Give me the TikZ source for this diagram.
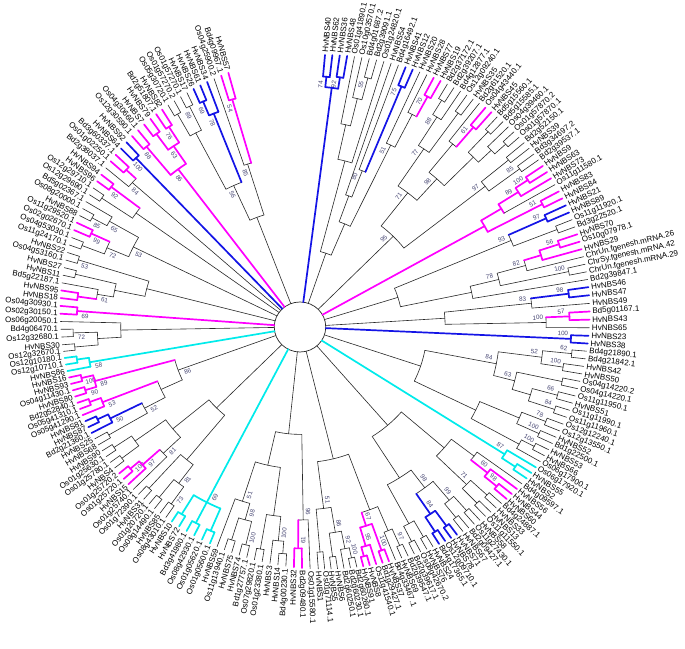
\documentclass[tikz,border=0pt]{standalone}
\usepackage{fontspec}
\setmainfont{Liberation Sans}
\definecolor{cm}{RGB}{255,0,255}
\definecolor{cb}{RGB}{20,20,230}
\definecolor{cc}{RGB}{0,235,235}
\definecolor{bsc}{RGB}{70,70,115}
\definecolor{lk}{RGB}{40,40,40}
\def\colk{lk}\def\colm{cm}\def\colb{cb}\def\colc{cc}
\def\wk{0.6pt}\def\wm{1.7pt}\def\wb{1.7pt}\def\wc{1.7pt}
\newcommand\tsA[2]{\expandafter\xdef\csname tA@#1\endcsname{#2}}
\newcommand\tgA[1]{\csname tA@#1\endcsname}
\newcommand\tsR[2]{\expandafter\xdef\csname tR@#1\endcsname{#2}}
\newcommand\tgR[1]{\csname tR@#1\endcsname}
\newcommand\tsC[2]{\expandafter\xdef\csname tC@#1\endcsname{#2}}
\newcommand\tgC[1]{\csname tC@#1\endcsname}
\newcommand\tsW[2]{\expandafter\xdef\csname tW@#1\endcsname{#2}}
\newcommand\tgW[1]{\csname tW@#1\endcsname}
\newcommand\Seg[4]{\gdef\sA{#1}\gdef\sAa{#2}\gdef\sB{#3}\gdef\sBa{#4}}
\newcommand\rtipof[1]{%
  \pgfmathsetmacro\tud{2.43*cos(#1)+1.5*sin(#1)}%
  \pgfmathsetmacro\rtipval{10*(\tud+sqrt(652.34+\tud*\tud))}}
\newcommand\Lf[3]{%
  \pgfmathsetmacro\la{(\sAa)+(#1-\sA)*((\sBa)-(\sAa))/(\sB-\sA)}%
  \rtipof{\la}%
  \tsA{#1}{\la}\tsR{#1}{\rtipval}%
  \tsC{#1}{\csname col#3\endcsname}\tsW{#1}{\csname w#3\endcsname}%
  \pgfmathsetmacro\lr{\rtipval+2}%
  \ifdim\la pt<-90pt
    \pgfmathsetmacro\lrot{\la+180}%
    \node[lbl,anchor=east,rotate=\lrot] (L#1) at (\la:\lr pt) {#2};%
  \else
    \node[lbl,anchor=west,rotate=\la] (L#1) at (\la:\lr pt) {#2};%
  \fi}
\newcommand\bslabel[4]{%
  \pgfmathsetmacro\ba{(#1)+286.5/(#2)}%
  \pgfmathsetmacro\brr{(#2)-8}%
  \ifdim#1pt<-90pt
    \pgfmathsetmacro\brot{(#1)+180}%
  \else
    \pgfmathsetmacro\brot{#1}%
  \fi
  \node[bsl,rotate=\brot] (B#4) at (\ba:\brr pt) {#3};}
\newcommand\Nd[5]{%
  \foreach \c [count=\k] in {#5}{\ifnum\k=1 \xdef\nfirst{\c}\fi\xdef\nlast{\c}}%
  \edef\aF{\tgA{\nfirst}}\edef\aL{\tgA{\nlast}}%
  \pgfmathsetmacro\na{((\aF)+(\aL))/2}%
  \rtipof{\na}%
  \pgfmathsetmacro\nr{#2*\rtipval}%
  \edef\ncol{\csname col#3\endcsname}\edef\nw{\csname w#3\endcsname}%
  \draw[draw=\ncol,line width=\nw,line cap=round] (\aF:\nr pt) arc[start angle=\aF, end angle=\aL, radius=\nr pt];%
  \foreach \c in {#5}{%
    \edef\cA{\tgA{\c}}\edef\cR{\tgR{\c}}\edef\cC{\tgC{\c}}\edef\cW{\tgW{\c}}%
    \draw[draw=\cC,line width=\cW,line cap=round] (\cA:\nr pt) -- (\cA:\cR pt);}%
  \tsA{#1}{\na}\tsR{#1}{\nr}\tsC{#1}{\ncol}\tsW{#1}{\nw}%
  \def\tmpbs{#4}\ifx\tmpbs\empty\else\bslabel{\na}{\nr}{#4}{#1}\fi}
\newcommand\Root[1]{%
  \draw[draw=lk,line width=0.7pt] (0,0) circle[radius=25pt];
  \foreach \c in {#1}{%
    \edef\cA{\tgA{\c}}\edef\cR{\tgR{\c}}\edef\cC{\tgC{\c}}\edef\cW{\tgW{\c}}%
    \draw[draw=\cC,line width=\cW,line cap=round] (\cA:25pt) -- (\cA:\cR pt);}}
\tikzset{
  lbl/.style={font=\fontsize{8}{9}\selectfont,inner sep=0.5pt,text=black},
  bsl/.style={font=\fontsize{6.3}{7}\selectfont,inner sep=0pt,text=bsc}
}
\begin{document}
\begin{tikzpicture}[x=1pt,y=1pt]
\useasboundingbox (0,0) rectangle (685,648);
\fill[white] (0,0) rectangle (685,648);
\begin{scope}[shift={(300,321)},xscale=1.03]
\Seg{1}{84.9}{18}{59.5}
\Lf{1}{HvNBS40}{b}\Lf{2}{HvNBS62}{b}\Lf{3}{HvNBS36}{b}\Lf{4}{HvNBS48}{b}
\Lf{5}{Os01g41890.1}{k}\Lf{6}{Os10g03570.1}{k}\Lf{7}{Bd4g01687.2}{k}\Lf{8}{Bd2g39091.1}{k}
\Lf{9}{Os01g24820.1}{k}\Lf{10}{HvNBS54}{k}\Lf{11}{Bd4g16492.1}{k}\Lf{12}{HvNBS41}{b}
\Lf{13}{HvNBS12}{b}\Lf{14}{HvNBS20}{k}\Lf{15}{HvNBS28}{k}\Lf{16}{HvNBS77}{m}
\Lf{17}{HvNBS19}{m}\Lf{18}{Bd2g37172.1}{k}
\Seg{18}{59.5}{38}{29.9}
\Lf{19}{Bd2g39207.1}{k}\Lf{20}{Bd4g12877.1}{k}\Lf{21}{Os12g09240.1}{k}\Lf{22}{HvNBS35}{k}
\Lf{23}{Bd2g61520.1}{k}\Lf{24}{Os04g43440.1}{m}\Lf{25}{HvNBS45}{m}\Lf{26}{Bd5g15560.1}{k}
\Lf{27}{Bd5g15585.1}{k}\Lf{28}{Os04g39460.1}{k}\Lf{29}{Os01g57870.2}{k}\Lf{30}{Os01g57870.1}{k}
\Lf{31}{Bd2g52150.1}{k}\Lf{32}{HvNBS39}{k}\Lf{33}{Bd3g34697.2}{k}\Lf{34}{Bd2g39537.1}{k}
\Lf{35}{HvNBS9}{m}\Lf{36}{HvNBS63}{m}\Lf{37}{HvNBS73}{m}\Lf{38}{Os11g11580.1}{k}
\Seg{38}{29.9}{52}{8.1}
\Lf{39}{HvNBS83}{m}\Lf{40}{HvNBS84}{m}\Lf{41}{HvNBS21}{b}\Lf{42}{HvNBS89}{b}
\Lf{43}{Os11g11920.1}{k}\Lf{44}{Bd3g22520.1}{k}\Lf{45}{HvNBS70}{m}\Lf{46}{Os10g07978.1}{m}
\Lf{47}{HvNBS29}{m}\Lf{48}{ChrUn.fgenesh.mRNA.26}{k}\Lf{49}{ChrSy.fgenesh.mRNA.42}{k}
\Lf{50}{ChrUn.fgenesh.mRNA.29}{k}\Lf{51}{Bd2g39847.1}{k}\Lf{52}{HvNBS46}{b}
\Seg{52}{8.1}{58}{-1.8}
\Lf{53}{HvNBS47}{b}\Lf{54}{HvNBS49}{k}\Lf{55}{Bd5g01167.1}{m}\Lf{56}{HvNBS43}{m}
\Lf{57}{HvNBS65}{k}\Lf{58}{HvNBS23}{b}
\Seg{58}{-1.8}{71}{-22.4}
\Lf{59}{HvNBS38}{b}\Lf{60}{Bd4g21890.1}{k}\Lf{61}{Bd4g21842.1}{k}\Lf{62}{HvNBS42}{k}
\Lf{63}{HvNBS50}{k}\Lf{64}{Os04g14220.2}{k}\Lf{65}{Os04g14220.1}{k}\Lf{66}{Os11g11950.1}{k}
\Lf{67}{HvNBS51}{k}\Lf{68}{Os11g11990.1}{k}\Lf{69}{Os11g11960.1}{k}\Lf{70}{Os12g12240.1}{k}
\Lf{71}{Os12g13550.1}{k}
\Seg{71}{-22.4}{83}{-40.6}
\Lf{72}{HvNBS52}{k}\Lf{73}{Bd1g22500.1}{k}\Lf{74}{HvNBS53}{k}\Lf{75}{HvNBS66}{k}
\Lf{76}{Os06g17900.1}{k}\Lf{77}{Os06g17920.1}{c}\Lf{78}{HvNBS55}{c}\Lf{79}{HvNBS2}{c}
\Lf{80}{Bd4g09597.1}{k}\Lf{81}{HvNBS56}{m}\Lf{82}{HvNBS44}{m}\Lf{83}{HvNBS60}{m}
\Seg{83}{-40.6}{114}{-85.8}
\Lf{84}{Bd4g24887.1}{k}\Lf{85}{HvNBS33}{k}\Lf{86}{HvNBS13}{k}\Lf{87}{Os11g11550.1}{k}
\Lf{88}{HvNBS58}{k}\Lf{89}{Os11g27430.1}{k}\Lf{90}{Bd2g09427.1}{k}\Lf{91}{HvNBS67}{k}
\Lf{92}{HvNBS71}{b}\Lf{93}{HvNBS78}{b}\Lf{94}{Os12g09710.1}{b}\Lf{95}{Bd4g17365.1}{b}
\Lf{96}{HvNBS24}{k}\Lf{97}{HvNBS76}{k}\Lf{98}{Os08g42670.2}{k}\Lf{99}{Bd2g39617.1}{k}
\Lf{100}{Bd2g39547.1}{k}\Lf{101}{HvNBS69}{k}\Lf{102}{Bd4g33467.1}{k}\Lf{103}{HvNBS37}{m}
\Lf{104}{Bd1g29427.1}{m}\Lf{105}{Os11g41540.1}{m}\Lf{106}{HvNBS8}{m}\Lf{107}{HvNBS91}{m}
\Lf{108}{Bd2g60260.1}{k}\Lf{109}{Bd2g60230.1}{k}\Lf{110}{Bd2g60250.1}{k}\Lf{111}{HvNBS6}{k}
\Lf{112}{HvNBS5}{k}\Lf{113}{Os01g71114.1}{k}\Lf{114}{HvNBS1}{k}
\Seg{114}{-85.8}{128}{-112}
\Lf{115}{Os01g15580.1}{k}\Lf{116}{Bd2g09480.1}{m}\Lf{117}{HvNBS32}{m}\Lf{118}{Bd4g00230.1}{k}
\Lf{119}{HvNBS14}{k}\Lf{120}{HvNBS3}{k}\Lf{121}{Os01g23380.1}{k}\Lf{122}{Os07g29820.1}{k}
\Lf{123}{Bd1g27757.1}{k}\Lf{124}{HvNBS74}{k}\Lf{125}{HvNBS75}{k}\Lf{126}{Os11g13940.1}{k}
\Lf{127}{HvNBS59}{k}\Lf{128}{Os01g05600.1}{c}
\Seg{128}{-112}{133}{-122.6}
\Lf{129}{Os01g05620.1}{c}\Lf{130}{Os08g42930.1}{c}\Lf{131}{Bd3g41980.1}{c}
\Lf{132}{HvNBS72}{c}\Lf{133}{HvNBS10}{c}
\Seg{133}{-122.6}{149}{-150.7}
\Lf{134}{Os08g43010.1}{k}\Lf{135}{HvNBS85}{k}\Lf{136}{Os09g14490.1}{k}\Lf{137}{Os01g20720.1}{k}
\Lf{138}{HvNBS31}{k}\Lf{139}{Os01g72390.1}{k}\Lf{140}{Os01g25740.1}{k}\Lf{141}{HvNBS15}{m}
\Lf{142}{Os01g25720.1}{m}\Lf{143}{Os01g25720.2}{m}\Lf{144}{HvNBS4}{k}\Lf{145}{Os01g25780.1}{k}
\Lf{146}{Os01g25630.1}{k}\Lf{147}{HvNBS90}{k}\Lf{148}{HvNBS68}{k}\Lf{149}{HvNBS25}{k}
\Seg{149}{-150.7}{164}{-175.6}
\Lf{150}{Bd2g21360.1}{b}\Lf{151}{HvNBS87}{b}\Lf{152}{HvNBS81}{b}\Lf{153}{Os05g41290.1}{m}
\Lf{154}{Os05g41310.1}{m}\Lf{155}{Bd2g52840.1}{m}\Lf{156}{HvNBS80}{m}\Lf{157}{Os04g11430.1}{m}
\Lf{158}{HvNBS93}{m}\Lf{159}{HvNBS16}{m}\Lf{160}{HvNBS86}{c}\Lf{161}{Os12g10710.1}{c}
\Lf{162}{Os12g10180.1}{c}\Lf{163}{Os12g32670.1}{k}\Lf{164}{HvNBS30}{k}
\Seg{164}{-175.6}{170}{-187.1}
\Lf{165}{Os12g32680.1}{k}\Lf{166}{Bd4g06470.1}{k}\Lf{167}{Os06g20050.1}{k}
\Lf{168}{Os02g30150.1}{m}\Lf{169}{Os04g30930.1}{m}\Lf{170}{HvNBS18}{m}
\Seg{170}{-187.1}{180}{-205.7}
\Lf{171}{HvNBS95}{m}\Lf{172}{Bd5g22187.1}{k}\Lf{173}{HvNBS11}{k}\Lf{174}{HvNBS27}{k}
\Lf{175}{Os04g53160.1}{k}\Lf{176}{HvNBS22}{k}\Lf{177}{Os11g24170.1}{k}\Lf{178}{Os04g53030.1}{k}
\Lf{179}{Os02g02670.1}{m}\Lf{180}{Os11g29520.1}{m}
\Seg{180}{-205.7}{187}{-218.3}
\Lf{181}{HvNBS88}{k}\Lf{182}{Os08g20000.1}{k}\Lf{183}{Bd5g02367.1}{k}\Lf{184}{Os12g29690.1}{k}
\Lf{185}{Os12g29710.1}{k}\Lf{186}{HvNBS96}{m}\Lf{187}{HvNBS94}{m}
\Seg{187}{-218.3}{196}{-235.1}
\Lf{188}{Bd2g38037.1}{k}\Lf{189}{Os01g02250.1}{m}\Lf{190}{Bd3g60337.1}{m}\Lf{191}{HvNBS64}{b}
\Lf{192}{HvNBS92}{b}\Lf{193}{Os12g30590.1}{m}\Lf{194}{Os04g30660.1}{m}\Lf{195}{HvNBS7}{m}
\Lf{196}{HvNBS79}{m}
\Seg{196}{-235.1}{208}{-254.7}
\Lf{197}{Bd2g51807.1}{m}\Lf{198}{HvNBS82}{m}\Lf{199}{Os05g30720.1}{k}\Lf{200}{Os01g57270.2}{k}
\Lf{201}{Os01g57270.1}{k}\Lf{202}{HvNBS17}{k}\Lf{203}{HvNBS26}{b}\Lf{204}{HvNBS61}{b}
\Lf{205}{HvNBS34}{b}\Lf{206}{Os04g25900.2}{k}\Lf{207}{Bd4g09967.1}{m}\Lf{208}{HvNBS57}{m}
% internal nodes
\Nd{a1}{.92}{b}{74}{1,2}
\Nd{a2}{.92}{b}{92}{3,4}
\Nd{a3}{.88}{b}{}{a1,a2}
\Nd{a4}{.93}{k}{55}{7,8}
\Nd{a5}{.85}{k}{}{6,a4}
\Nd{a6}{.75}{k}{}{5,a5}
\Nd{a7}{.62}{k}{}{a6,9}
\Nd{a8}{.93}{b}{75}{12,13}
\Nd{a9}{.6}{k}{80}{11,a8}
\Nd{a10}{.5}{k}{}{10,a9}
\Nd{a11}{.93}{m}{70}{16,17}
\Nd{a12}{.85}{k}{}{15,a11}
\Nd{a13}{.72}{k}{51}{14,a12}
\Nd{a14}{.4}{k}{}{a10,a13}
\Nd{a15}{.28}{k}{}{a7,a14}
\Nd{a16}{.94}{k}{}{18,19}
\Nd{a17}{.88}{k}{88}{a16,20}
\Nd{a18}{.93}{k}{}{21,22}
\Nd{a19}{.76}{k}{77}{a17,a18}
\Nd{a20}{.92}{m}{61}{24,25}
\Nd{a21}{.83}{k}{}{23,a20}
\Nd{a22}{.94}{k}{}{26,27}
\Nd{a23}{.95}{k}{}{29,30}
\Nd{a24}{.9}{k}{}{28,a23}
\Nd{a25}{.84}{k}{}{a22,a24}
\Nd{a26}{.7}{k}{98}{a21,a25}
\Nd{a27}{.6}{k}{71}{a19,a26}
\Nd{a28}{.92}{k}{}{31,32}
\Nd{a29}{.93}{k}{85}{33,34}
\Nd{a30}{.8}{k}{97}{a28,a29}
\Nd{a31}{.45}{k}{95}{a27,a30}
\Nd{a32}{.93}{m}{100}{35,36}
\Nd{a33}{.88}{m}{89}{a32,37}
\Nd{a34}{.8}{m}{}{a33,38}
\Nd{a35}{.93}{m}{51}{39,40}
\Nd{a36}{.72}{m}{}{a34,a35}
\Nd{a37}{.92}{b}{97}{41,42}
\Nd{a38}{.94}{k}{}{43,44}
\Nd{a39}{.78}{k}{93}{a37,a38}
\Nd{a40}{.93}{m}{56}{45,46}
\Nd{a41}{.86}{m}{}{a40,47}
\Nd{a42}{.8}{k}{82}{a41,48}
\Nd{a43}{.94}{k}{100}{49,50}
\Nd{a44}{.7}{k}{78}{a42,a43}
\Nd{a45}{.6}{k}{}{a44,51}
\Nd{a46}{.35}{k}{}{a39,a45}
\Nd{a47}{.93}{b}{98}{52,53}
\Nd{a48}{.8}{k}{83}{a47,54}
\Nd{a49}{.93}{m}{57}{55,56}
\Nd{a50}{.85}{k}{100}{a49,57}
\Nd{a51}{.5}{k}{}{a48,a50}
\Nd{a52}{.94}{b}{100}{58,59}
\Nd{a53}{.95}{k}{62}{60,61}
\Nd{a54}{.93}{k}{100}{62,63}
\Nd{a55}{.85}{k}{52}{a53,a54}
\Nd{a56}{.94}{k}{}{64,65}
\Nd{a57}{.94}{k}{66}{66,67}
\Nd{a58}{.95}{k}{84}{68,69}
\Nd{a59}{.85}{k}{}{a57,a58}
\Nd{a60}{.78}{k}{63}{a56,a59}
\Nd{a61}{.7}{k}{84}{a55,a60}
\Nd{a62}{.94}{k}{78}{70,71}
\Nd{a63}{.94}{k}{100}{72,73}
\Nd{a64}{.85}{k}{}{a62,a63}
\Nd{a65}{.95}{k}{100}{74,75}
\Nd{a65b}{.9}{k}{}{a65,76}
\Nd{a66}{.7}{k}{}{a64,a65b}
\Nd{a67}{.45}{k}{}{a61,a66}
\Nd{a69}{.94}{c}{}{78,79}
\Nd{a70}{.88}{c}{87}{77,a69}
\Nd{a72}{.94}{m}{98}{82,83}
\Nd{a73}{.88}{m}{60}{81,a72}
\Nd{a74}{.8}{k}{}{80,a73}
\Nd{a75}{.94}{k}{}{84,85}
\Nd{a76}{.94}{k}{}{86,87}
\Nd{a77}{.86}{k}{71}{a75,a76}
\Nd{a78}{.7}{k}{}{a74,a77}
\Nd{a79}{.94}{k}{}{88,89}
\Nd{a80}{.94}{k}{}{90,91}
\Nd{a81}{.87}{k}{99}{a79,a80}
\Nd{a82}{.95}{b}{}{92,93}
\Nd{a83}{.95}{b}{}{94,95}
\Nd{a84}{.88}{b}{84}{a82,a83}
\Nd{a85}{.78}{k}{98}{a81,a84}
\Nd{a86}{.95}{k}{}{96,97}
\Nd{a87}{.95}{k}{}{98,99}
\Nd{a88}{.88}{k}{}{a86,a87}
\Nd{a89}{.7}{k}{}{a85,a88}
\Nd{a90}{.5}{k}{}{a78,a89}
\Nd{a91}{.95}{k}{97}{100,101}
\Nd{a92}{.88}{k}{}{a91,102}
\Nd{a93}{.95}{m}{100}{103,104}
\Nd{a94}{.96}{m}{}{106,107}
\Nd{a95}{.92}{m}{95}{105,a94}
\Nd{a96}{.84}{m}{67}{a93,a95}
\Nd{a97}{.78}{k}{}{a92,a96}
\Nd{a98}{.96}{k}{100}{108,109}
\Nd{a99}{.92}{k}{92}{a98,110}
\Nd{a100}{.95}{k}{}{111,112}
\Nd{a101}{.85}{k}{86}{a99,a100}
\Nd{a102}{.93}{k}{}{113,114}
\Nd{a103}{.75}{k}{51}{a101,a102}
\Nd{a104}{.55}{k}{}{a97,a103}
\Nd{a105}{.92}{m}{61}{116,117}
\Nd{a106}{.8}{k}{96}{115,a105}
\Nd{a107}{.95}{k}{}{118,119}
\Nd{a108}{.9}{k}{100}{a107,120}
\Nd{a109}{.95}{k}{}{121,122}
\Nd{a110}{.8}{k}{}{a108,a109}
\Nd{a111}{.95}{k}{100}{123,124}
\Nd{a112}{.95}{k}{}{125,126}
\Nd{a113}{.85}{k}{98}{a111,a112}
\Nd{a114}{.78}{k}{51}{a113,127}
\Nd{a115}{.6}{k}{}{a110,a114}
\Nd{a116}{.45}{k}{}{a106,a115}
\Nd{a117}{.95}{c}{}{132,133}
\Nd{a118}{.95}{c}{}{130,131}
\Nd{a119}{.95}{c}{}{128,129}
\Nd{a120}{.85}{c}{69}{a119,a118,a117}
\Nd{a121}{.94}{k}{73}{134,135}
\Nd{a122}{.95}{k}{}{136,137}
\Nd{a123}{.85}{k}{81}{a121,a122}
\Nd{a124}{.95}{k}{}{138,139}
\Nd{a125}{.75}{k}{}{a123,a124}
\Nd{a126}{.95}{m}{100}{142,143}
\Nd{a127}{.9}{m}{97}{141,a126}
\Nd{a128}{.8}{k}{81}{140,a127}
\Nd{a129}{.95}{k}{}{144,145}
\Nd{a130}{.95}{k}{}{146,147}
\Nd{a131}{.86}{k}{}{a129,a130}
\Nd{a132}{.7}{k}{}{a128,a131}
\Nd{a133}{.5}{k}{}{a125,a132}
\Nd{a134}{.94}{k}{}{148,149}
\Nd{a135}{.95}{b}{}{151,152}
\Nd{a136}{.9}{b}{50}{150,a135}
\Nd{a137}{.95}{m}{}{154,155}
\Nd{a138}{.9}{m}{53}{153,a137}
\Nd{a139}{.75}{k}{52}{a134,a136}
\Nd{a140}{.65}{k}{}{a139,a138}
\Nd{a141}{.95}{m}{100}{158,159}
\Nd{a142}{.95}{m}{90}{156,157}
\Nd{a143}{.9}{m}{89}{a142,a141}
\Nd{a144}{.55}{k}{86}{a140,a143}
\Nd{a145}{.95}{c}{}{161,162}
\Nd{a146}{.9}{c}{58}{160,a145}
\Nd{a147}{.95}{k}{}{163,164}
\Nd{a148}{.95}{k}{72}{165,166}
\Nd{a149}{.85}{k}{}{a147,a148}
\Nd{a150}{.75}{k}{}{a149,167}
\Nd{a151}{.93}{m}{69}{168,169}
\Nd{a152}{.93}{m}{}{170,171}
\Nd{a153}{.85}{k}{61}{a152,172}
\Nd{a154}{.95}{k}{}{173,174}
\Nd{a155}{.78}{k}{}{a153,a154}
\Nd{a156}{.95}{k}{53}{175,176}
\Nd{a157}{.65}{k}{}{a155,a156}
\Nd{a158}{.95}{k}{}{177,178}
\Nd{a159}{.93}{m}{99}{179,180}
\Nd{a160}{.85}{k}{72}{a158,a159}
\Nd{a161}{.95}{k}{85}{181,182}
\Nd{a162}{.88}{k}{65}{a161,183}
\Nd{a163}{.75}{k}{53}{a160,a162}
\Nd{a164}{.95}{k}{}{184,185}
\Nd{a165}{.94}{m}{92}{186,187}
\Nd{a166}{.8}{k}{}{a164,a165}
\Nd{a167}{.93}{m}{}{189,190}
\Nd{a168}{.88}{k}{84}{188,a167}
\Nd{a169}{.93}{b}{100}{191,192}
\Nd{a170}{.93}{m}{88}{193,194}
\Nd{a171}{.94}{m}{}{195,196}
\Nd{a172}{.93}{m}{76}{197,198}
\Nd{a173}{.86}{m}{63}{a171,a172}
\Nd{a174}{.78}{m}{86}{a170,a173}
\Nd{a175}{.95}{k}{}{199,200}
\Nd{a176}{.95}{k}{89}{201,202}
\Nd{a177}{.85}{k}{}{a175,a176}
\Nd{a178}{.94}{b}{69}{203,204}
\Nd{a179}{.88}{b}{78}{a178,205}
\Nd{a180}{.9}{m}{54}{207,208}
\Nd{a181}{.65}{k}{85}{206,a180}
\Nd{a182}{.6}{k}{56}{a177,a179}
\Nd{a183}{.45}{k}{}{a182,a181}
\Root{a3,a15,a31,a36,a46,a51,a52,a67,a70,a90,a104,a116,a120,a133,a144,a146,a150,a151,a157,a163,a166,a168,a169,a174,a183}
\end{scope}
\end{tikzpicture}
\end{document}
